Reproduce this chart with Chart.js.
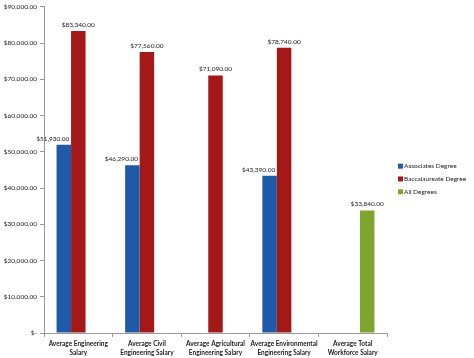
<!DOCTYPE html>
<html>
<head>
<meta charset="utf-8">
<script src="https://cdn.jsdelivr.net/npm/chart.js@4.4.1/dist/chart.umd.min.js"></script>
<style>
  html, body { margin: 0; padding: 0; background: #fff; }
  #wrap { width: 474px; height: 358px; }
</style>
</head>
<body>
<div id="wrap"><canvas id="chart"></canvas></div>
<script>
const categories = [
  ['Average Engineering', 'Salary'],
  ['Average Civil', 'Engineering Salary'],
  ['Average Agricultural', 'Engineering Salary'],
  ['Average Environmental', 'Engineering Salary'],
  ['Average Total', 'Workforce Salary']
]
const associates = [51930, 46290, null, 43390, null]
const baccalaureate = [83340, 77560, 71090, 78740, null]
const allDegrees = [null, null, null, null, 33840]
const yTicks = [0, 10000, 20000, 30000, 40000, 50000, 60000, 70000, 80000, 90000]

const FONT = 'Lato, "Open Sans", sans-serif'

function money(v){
  if(v === 0) return '$-'
  return '$' + v.toLocaleString('en-US', {minimumFractionDigits: 2, maximumFractionDigits: 2})
}

// value labels above each bar, blue ones nudged left like the original
const barLabels = {
  id: 'barLabels',
  afterDatasetsDraw(chart){
    const ctx = chart.ctx
    ctx.save()
    ctx.font = '6.5px ' + FONT
    ctx.fillStyle = '#222'
    ctx.textAlign = 'center'
    ctx.textBaseline = 'bottom'
    chart.data.datasets.forEach((ds, i) => {
      const meta = chart.getDatasetMeta(i)
      meta.data.forEach((bar, j) => {
        const v = ds.data[j]
        if(v == null) return
        const shift = i === 0 ? -11 : 0
        ctx.fillText(money(v), bar.x + shift, bar.y - 3)
      })
    })
    ctx.restore()
  }
}

// small legend to the right of the plot, built from the datasets
const sideLegend = {
  id: 'sideLegend',
  afterDraw(chart){
    const ctx = chart.ctx
    const area = chart.chartArea
    const sets = chart.data.datasets
    const step = 12.8
    const x = area.right + 11
    let y = (area.top + area.bottom) / 2 - step * (sets.length - 1) / 2 + 9
    ctx.save()
    ctx.font = '6.5px ' + FONT
    ctx.textBaseline = 'middle'
    sets.forEach(ds => {
      ctx.fillStyle = ds.backgroundColor
      ctx.fillRect(x, y - 2.5, 5, 5)
      ctx.fillStyle = '#222'
      ctx.fillText(ds.label, x + 6, y)
      y += step
    })
    ctx.restore()
  }
}

new Chart(document.getElementById('chart'), {
  type: 'bar',
  data: {
    labels: categories,
    datasets: [
      { label: 'Associates Degree', data: associates, backgroundColor: '#1f5aa8' },
      { label: 'Baccalaureate Degree', data: baccalaureate, backgroundColor: '#a51818' },
      { label: 'All Degrees', data: allDegrees, backgroundColor: '#7ea62e' }
    ]
  },
  options: {
    responsive: true,
    maintainAspectRatio: false,
    animation: false,
    layout: { padding: { top: 5, right: 87, left: 0, bottom: 0 } },
    datasets: { bar: { categoryPercentage: 0.634, barPercentage: 1 } },
    plugins: {
      legend: { display: false },
      tooltip: { enabled: false }
    },
    scales: {
      x: {
        grid: { display: true, drawOnChartArea: false, tickLength: 4, color: '#999' },
        border: { color: '#999' },
        ticks: {
          color: '#222',
          maxRotation: 0,
          autoSkip: false,
          padding: 3,
          font: { family: FONT, size: 6.5, weight: 'bold', lineHeight: 1.3 }
        },
        afterFit(scale){ scale.height = 25 }
      },
      y: {
        min: 0,
        max: 90000,
        afterBuildTicks(scale){ scale.ticks = yTicks.map(v => ({ value: v })) },
        grid: { display: true, drawOnChartArea: false, tickLength: 4, color: '#999' },
        border: { color: '#999' },
        ticks: {
          color: '#222',
          padding: 3,
          font: { family: FONT, size: 6.5 },
          callback: v => money(v)
        },
        afterFit(scale){ scale.width = 44 }
      }
    }
  },
  plugins: [barLabels, sideLegend]
})
</script>
</body>
</html>
